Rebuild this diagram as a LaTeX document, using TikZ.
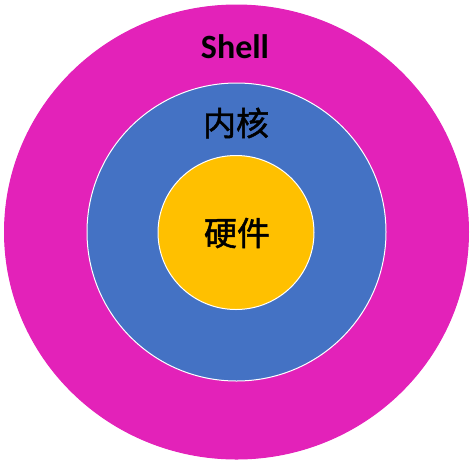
\documentclass[tikz,border=0pt]{standalone}
\usepackage{fontspec}
\setmainfont{Carlito}
\newfontfamily\cjk[FakeBold=1.5]{Noto Sans CJK SC}
\definecolor{shellc}{HTML}{E322B9}
\definecolor{kernc}{HTML}{4472C4}
\definecolor{hwc}{HTML}{FFC000}
\tikzset{
  ring/.style={ellipse, inner sep=0pt, draw=white, line width=1pt},
  lbl/.style={text=black, inner sep=0pt}
}
\usetikzlibrary{shapes.geometric}
\begin{document}
\begin{tikzpicture}[x=1pt,y=-1pt]
\useasboundingbox (0,0) rectangle (474,467);
\node[ring, fill=shellc, draw=shellc, minimum width=464pt, minimum height=454pt] (shell) at (236.5,232) {};
\node[ring, fill=kernc, minimum width=299pt, minimum height=298pt] (kernel) at (236.5,232) {};
\node[ring, fill=hwc, minimum width=156pt, minimum height=154pt] (hw) at (236,232.5) {};
\node[lbl, font=\fontsize{34}{36}\selectfont\bfseries] (tshell) at (235,47) {Shell};
\node[lbl, font=\fontsize{33}{36}\selectfont\cjk] (tkern) at (236,123) {内核};
\node[lbl, font=\fontsize{33}{36}\selectfont\cjk] (thw) at (237,233) {硬件};
\end{tikzpicture}
\end{document}
